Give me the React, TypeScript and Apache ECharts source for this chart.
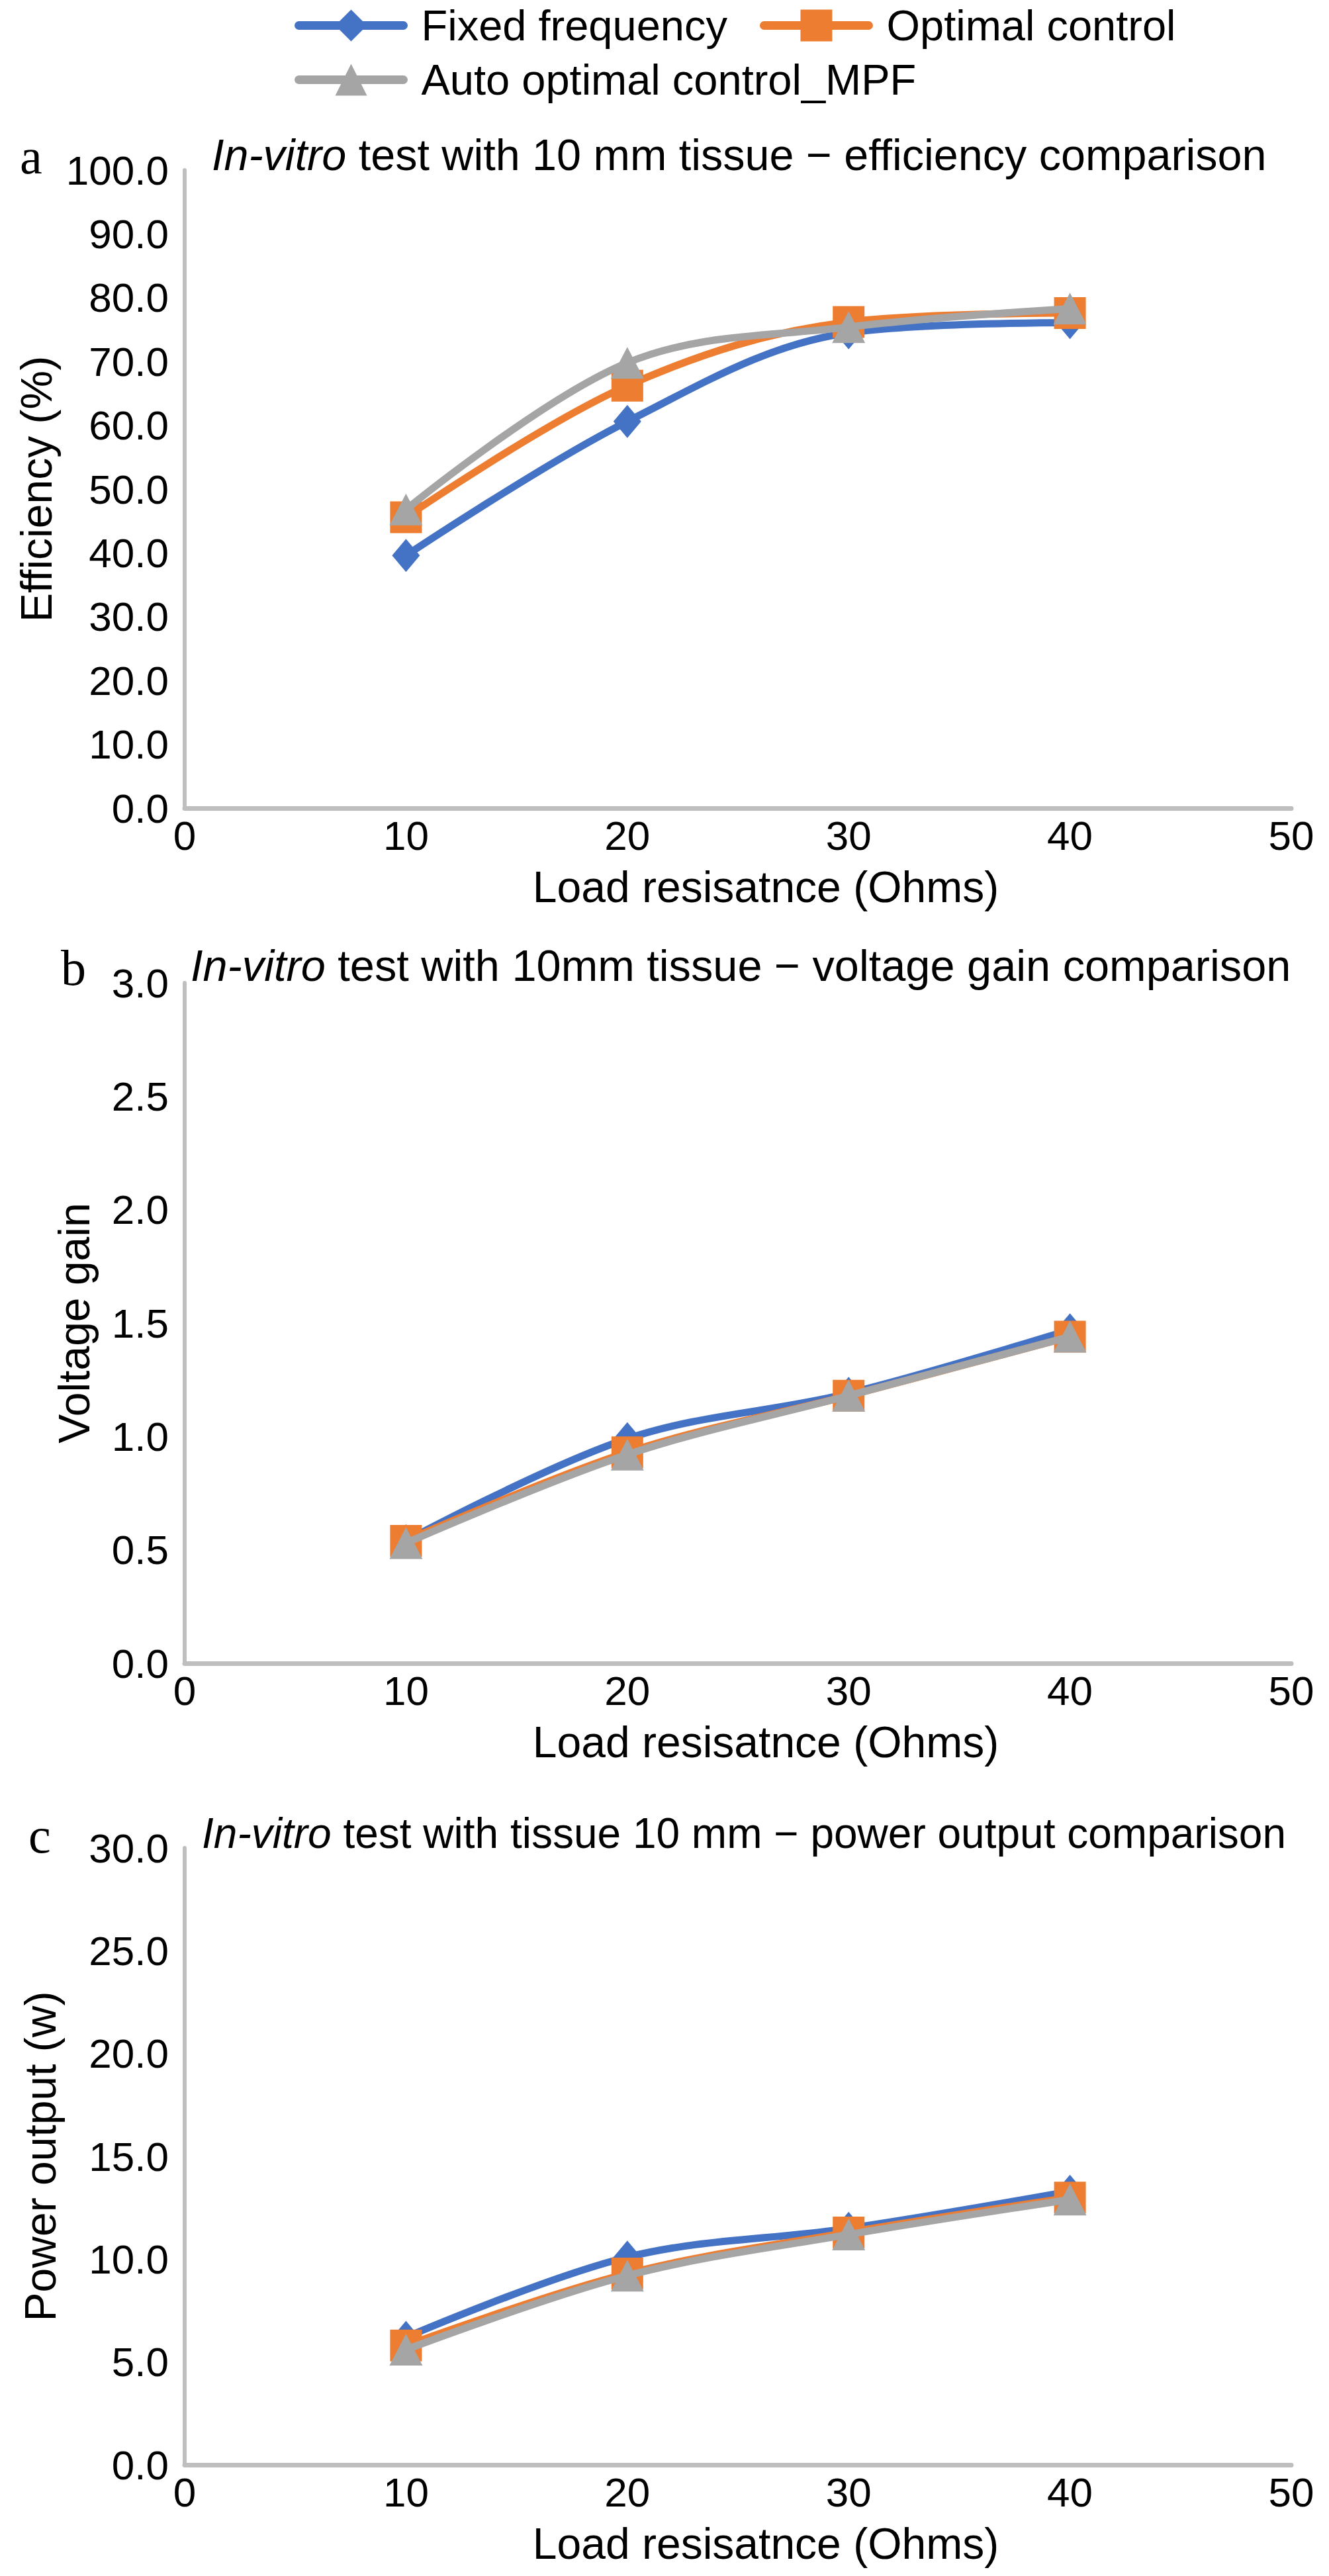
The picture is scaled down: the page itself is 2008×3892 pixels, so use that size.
import React, { useEffect, useRef } from "react";
import * as echarts from "echarts";

const loadOhms = [10, 20, 30, 40];
const seriesNames = ["Fixed frequency", "Optimal control", "Auto optimal control_MPF"];
const colors = ["#4472C4", "#ED7D31", "#A5A5A5"];

const effFixed = [39.6, 60.6, 74.5, 76.1];
const effOptimal = [45.6, 66.2, 76.2, 77.6];
const effAuto = [46.8, 69.8, 75.4, 78.3];

const gainFixed = [0.54, 0.99, 1.19, 1.47];
const gainOptimal = [0.54, 0.93, 1.18, 1.44];
const gainAuto = [0.53, 0.92, 1.18, 1.44];

const powFixed = [6.2, 10.1, 11.5, 13.3];
const powOptimal = [5.8, 9.3, 11.3, 13.0];
const powAuto = [5.6, 9.2, 11.2, 12.9];

const panelTitles = [
  "{i|In-vitro} test with 10 mm tissue \u2212 efficiency comparison",
  "{i|In-vitro} test with 10mm tissue \u2212 voltage gain comparison",
  "{i|In-vitro} test with tissue 10 mm \u2212 power output comparison",
];
const panelLetters = ["a", "b", "c"];
const yNames = ["Efficiency (%)", "Voltage gain", "Power output (w)"];
const xName = "Load resisatnce (Ohms)";

const SANS = "'Liberation Sans', Arial, Helvetica, sans-serif";
const SERIF = "'Liberation Serif', 'Times New Roman', serif";

export default function App() {
  const ref = useRef<HTMLDivElement>(null);
  useEffect(() => {
    document.body.style.margin = "0";
    const chart = echarts.init(ref.current!, null, { renderer: "svg" });

    const grids = [
      { left: 279, right: 57, top: 257, height: 964 },
      { left: 279, right: 57, top: 1485, height: 1028 },
      { left: 279, right: 57, top: 2792, height: 932 },
    ];
    const yRanges = [
      { max: 100, interval: 10 },
      { max: 3, interval: 0.5 },
      { max: 30, interval: 5 },
    ];
    const yNameGaps = [191, 134, 185];
    const data = [
      [effFixed, effOptimal, effAuto],
      [gainFixed, gainOptimal, gainAuto],
      [powFixed, powOptimal, powAuto],
    ];
    const symbols = ["diamond", "rect", "triangle"];
    const symbolSizes: any[] = [[42, 50], [48, 48], [50, 48]];

    const xAxes = grids.map((_, i) => ({
      type: "value",
      gridIndex: i,
      min: 0,
      max: 50,
      interval: 10,
      splitLine: { show: false },
      axisTick: { show: false },
      axisLine: { show: true, lineStyle: { color: "#BFBFBF", width: 7 } },
      axisLabel: { color: "#000", fontSize: 62, fontFamily: SANS, margin: 10 },
      name: xName,
      nameLocation: "middle",
      nameGap: 86,
      nameTextStyle: { color: "#000", fontSize: 66, fontFamily: SANS, padding: [0, 0, 0, 84] },
    }));

    const yAxes = grids.map((_, i) => ({
      type: "value",
      gridIndex: i,
      min: 0,
      max: yRanges[i].max,
      interval: yRanges[i].interval,
      splitLine: { show: false },
      axisTick: { show: false },
      axisLine: { show: true, lineStyle: { color: "#BFBFBF", width: 6 } },
      axisLabel: {
        color: "#000",
        fontSize: 62,
        fontFamily: SANS,
        margin: 24,
        formatter: (v: number) => v.toFixed(1),
      },
      name: yNames[i],
      nameLocation: "middle",
      nameGap: yNameGaps[i],
      nameTextStyle: { color: "#000", fontSize: 66, fontFamily: SANS },
    }));

    const series: any[] = [];
    data.forEach((group, gi) => {
      group.forEach((vals, si) => {
        series.push({
          type: "line",
          name: seriesNames[si],
          xAxisIndex: gi,
          yAxisIndex: gi,
          data: loadOhms.map((x, k) => [x, vals[k]]),
          smooth: 0.35,
          symbol: symbols[si],
          symbolSize: symbolSizes[si],
          showSymbol: true,
          color: colors[si],
          lineStyle: { color: colors[si], width: 11, cap: "round", join: "round" },
          itemStyle: { color: colors[si] },
          z: 2 + si,
        });
      });
    });

    const titleTops = [200, 1425, 2738];
    const titleLefts = [320, 288, 305];
    const titleSizes = [66.5, 66.7, 64];
    const letterTops = [198, 1424, 2735];
    const letterLefts = [30, 92, 43];

    const titles: any[] = [];
    panelTitles.forEach((t, i) => {
      titles.push({
        text: t,
        left: titleLefts[i],
        top: titleTops[i],
        padding: 0,
        textStyle: {
          color: "#000",
          fontSize: titleSizes[i],
          fontWeight: "normal",
          fontFamily: SANS,
          rich: { i: { fontStyle: "italic", fontSize: titleSizes[i], fontFamily: SANS, color: "#000" } },
        },
      });
      titles.push({
        text: panelLetters[i],
        left: letterLefts[i],
        top: letterTops[i],
        padding: 0,
        textStyle: { color: "#000", fontSize: 76, fontWeight: "normal", fontFamily: SERIF },
      });
    });

    const legendCommon = {
      orient: "horizontal",
      itemWidth: 158,
      itemHeight: 60,
      itemGap: 49,
      padding: 0,
      textStyle: { color: "#000", fontSize: 65, fontFamily: SANS, padding: [0, 0, 0, 22] },
      lineStyle: { width: 13, cap: "round" },
    };

    chart.setOption({
      animation: false,
      backgroundColor: "#fff",
      title: titles,
      legend: [
        { ...legendCommon, data: [seriesNames[0], seriesNames[1]], left: 445, top: 6 },
        { ...legendCommon, data: [seriesNames[2]], left: 445, top: 88 },
      ],
      grid: grids,
      xAxis: xAxes,
      yAxis: yAxes,
      series,
    });

    return () => chart.dispose();
  }, []);

  return (
    <div
      ref={ref}
      style={{ position: "absolute", left: 0, top: 0, width: 2008, height: 3892 }}
    />
  );
}
